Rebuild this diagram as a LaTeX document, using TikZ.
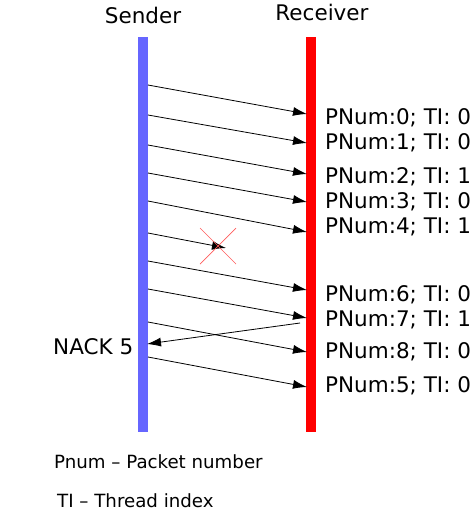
\documentclass[tikz,border=0pt]{standalone}
\usepackage{fontspec}
\setmainfont{DejaVu Sans}
\usetikzlibrary{arrows.meta}
\definecolor{sendblue}{RGB}{102,102,255}
\definecolor{recvred}{RGB}{255,0,0}
\definecolor{crossred}{RGB}{255,90,90}
\tikzset{
  big/.style={font=\fontsize{21.5}{25}\selectfont, inner sep=0pt},
  small/.style={font=\fontsize{18.2}{22}\selectfont, inner sep=0pt, anchor=west},
  lbl/.style={big, anchor=west},
  msg/.style={line width=0.8pt, -{Latex[length=14pt,width=9pt]}},
  bar/.style={minimum width=10pt, inner sep=0pt, draw=none}
}
\begin{document}
\begin{tikzpicture}[x=1pt,y=-1pt]
\useasboundingbox (0,0) rectangle (474,517);
% lifelines
\node[bar, fill=sendblue, minimum height=395pt] (sbar) at (143,234.5) {};
\node[bar, fill=recvred, minimum height=395pt] (rbar) at (311,234.5) {};
\node[big] (sender) at (143,15) {Sender};
\node[big] (receiver) at (322,12) {Receiver};
% start points on sender
\foreach \n/\y in {0/85,1/115,2/145,3/173,4/201,x/233,6/261,7/289,8/322,5/357}
  \coordinate (s\n) at (148,\y);
% end points on receiver
\foreach \n/\y in {0/114,1/143,2/174,3/202,4/232,6/290,7/318,8/352,5/387}
  \coordinate (r\n) at (307,\y);
\coordinate (lost) at (226,248);
\coordinate (nackstart) at (300,323);
\coordinate (nackend) at (147,344);
% messages
\foreach \n in {0,1,2,3,4,6,7,8,5}
  \draw[msg] (s\n) -- (r\n);
\draw[msg] (sx) -- (lost);
\draw[msg] (nackstart) -- (nackend);
% cross
\coordinate (c1) at (200,228);
\coordinate (c2) at (236,264);
\coordinate (c3) at (200,264);
\coordinate (c4) at (236,228);
\draw[crossred, line width=0.7pt] (c1) -- (c2) (c3) -- (c4);
% labels
\node[lbl] (l0) at (325,118) {PNum:0; TI: 0};
\node[lbl] (l1) at (325,143) {PNum:1; TI: 0};
\node[lbl] (l2) at (325,177) {PNum:2; TI: 1};
\node[lbl] (l3) at (325,202) {PNum:3; TI: 0};
\node[lbl] (l4) at (325,227) {PNum:4; TI: 1};
\node[lbl] (l6) at (325,295) {PNum:6; TI: 0};
\node[lbl] (l7) at (325,320) {PNum:7; TI: 1};
\node[lbl] (l8) at (325,352) {PNum:8; TI: 0};
\node[lbl] (l5) at (325,386) {PNum:5; TI: 0};
\node[lbl] (nack) at (53,347) {NACK 5};
% legend
\node[small] (leg1) at (54,462) {Pnum – Packet number};
\node[small] (leg2) at (57,501) {TI – Thread index};
\end{tikzpicture}
\end{document}
